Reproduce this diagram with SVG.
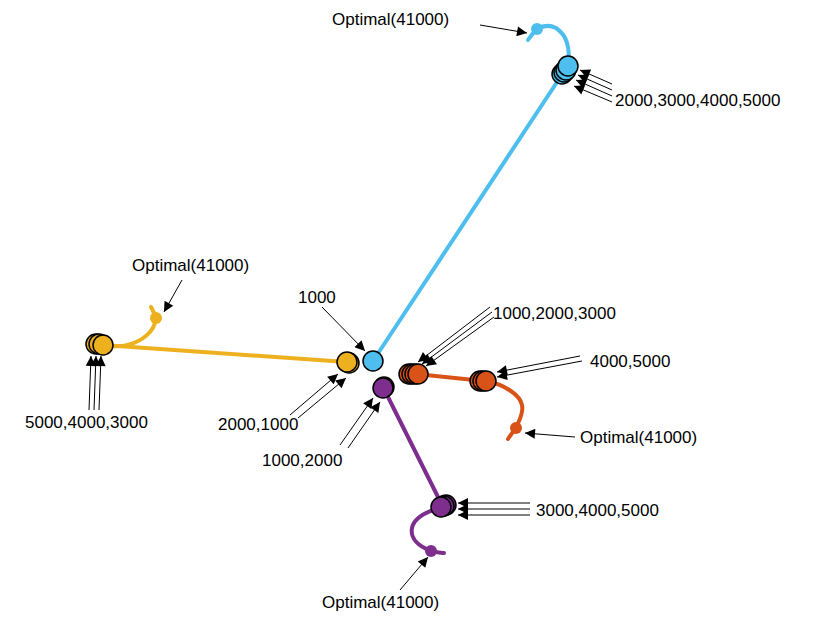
<svg xmlns="http://www.w3.org/2000/svg" width="830" height="643" viewBox="0 0 830 643">
<style>
text{font-family:"Liberation Sans",Arial,sans-serif;font-size:17px;fill:#000}
.ar{stroke:#000;stroke-width:1;fill:none;marker-end:url(#ah)}
.e{fill:none;stroke-width:4;stroke-linecap:round;stroke-linejoin:round}
.n{stroke:#000;stroke-width:1.5}
.b{fill:#4DBEEE}.o{fill:#D95319}.y{fill:#EDB120}.p{fill:#7E2F8E}
</style>
<defs><marker id="ah" viewBox="0 0 10 10" refX="10" refY="5" markerWidth="16" markerHeight="10" markerUnits="userSpaceOnUse" orient="auto"><path d="M0,0L10,5L0,10z" fill="#000"/></marker></defs>
<rect width="830" height="643" fill="#fff"/>
<g id="connectors">
<path class="e" stroke="#4DBEEE" d="M373,361L567,67"/>
<path class="e" stroke="#4DBEEE" d="M568,64C570,50 568,36 556,28C548,24 542,26 537,29C533,33 530,37 528,40"/>
<path class="e" stroke="#EDB120" d="M347,362L103,345"/>
<path class="e" stroke="#EDB120" d="M105,346C125,348 140,343 150,332C155,326 156,320 155,316C154,312 152,309 151,307"/>
<path class="e" stroke="#D95319" d="M416,374L484,381"/>
<path class="e" stroke="#D95319" d="M487,381C505,385 520,395 522,405C524,414 518,422 516,428C512,433 510,436 508,439"/>
<path class="e" stroke="#7E2F8E" d="M383,387L443,507"/>
<path class="e" stroke="#7E2F8E" d="M440,508C425,512 414,518 412,528C410,538 418,546 431,551C437,552 441,553 444,553"/>
<circle class="b" cx="537" cy="29" r="6"/><circle class="y" cx="156" cy="318" r="6"/>
<circle class="o" cx="516" cy="428" r="6"/><circle class="p" cx="431" cy="551" r="6"/>
<path class="ar" d="M480,25L527,33"/>
<path class="ar" d="M612,84L580,70"/><path class="ar" d="M612,90L578,75"/><path class="ar" d="M612,96L576,80"/><path class="ar" d="M612,102L574,86"/>
<path class="ar" d="M322,307L365,351"/>
<path class="ar" d="M290,415L338,374"/><path class="ar" d="M298,418L346,378"/>
<path class="ar" d="M340,445L373,398"/><path class="ar" d="M348,448L380,402"/>
<path class="ar" d="M490,307L418,362"/><path class="ar" d="M492,312L422,364"/><path class="ar" d="M494,317L426,366"/>
<path class="ar" d="M580,356L497,372"/><path class="ar" d="M582,361L497,377"/>
<path class="ar" d="M575,437L525,433"/>
<path class="ar" d="M530,503L458,503"/><path class="ar" d="M530,509L458,509"/><path class="ar" d="M530,515L458,515"/>
<path class="ar" d="M400,590L428,557"/>
<path class="ar" d="M182,280L164,312"/>
<path class="ar" d="M89,410L91,356"/><path class="ar" d="M94,410L96,356"/><path class="ar" d="M99,410L101,356"/>
</g>
<g id="blue-center"><circle class="n b" cx="373" cy="361" r="10"/></g>
<g id="blue-cluster"><circle class="n b" cx="562" cy="74" r="10"/><circle class="n b" cx="564" cy="72" r="10"/><circle class="n b" cx="566" cy="70" r="10"/><circle class="n b" cx="568" cy="66" r="10"/></g>
<g id="yellow-center"><circle class="n y" cx="349" cy="363" r="10"/><circle class="n y" cx="347" cy="362" r="10"/></g>
<g id="yellow-cluster"><circle class="n y" cx="96" cy="344" r="10"/><circle class="n y" cx="99" cy="344" r="10"/><circle class="n y" cx="103" cy="345" r="10"/></g>
<g id="orange-center"><circle class="n o" cx="409" cy="374" r="10"/><circle class="n o" cx="412" cy="374" r="10"/><circle class="n o" cx="415" cy="374" r="10"/><circle class="n o" cx="418" cy="374" r="10"/></g>
<g id="orange-cluster"><circle class="n o" cx="480" cy="381" r="10"/><circle class="n o" cx="483" cy="381" r="10"/><circle class="n o" cx="486" cy="381" r="10"/></g>
<g id="purple-center"><circle class="n p" cx="384" cy="387" r="10"/><circle class="n p" cx="383" cy="388" r="10"/></g>
<g id="purple-cluster"><circle class="n p" cx="446" cy="505" r="10"/><circle class="n p" cx="444" cy="506" r="10"/><circle class="n p" cx="441" cy="507" r="10"/></g>
<g id="labels">
<text x="332" y="25">Optimal(41000)</text>
<text x="615" y="106">2000,3000,4000,5000</text>
<text x="298" y="303">1000</text>
<text x="218" y="430">2000,1000</text>
<text x="262" y="466">1000,2000</text>
<text x="493" y="319">1000,2000,3000</text>
<text x="590" y="367">4000,5000</text>
<text x="580" y="443">Optimal(41000)</text>
<text x="536" y="516">3000,4000,5000</text>
<text x="322" y="608">Optimal(41000)</text>
<text x="132" y="271">Optimal(41000)</text>
<text x="25" y="428">5000,4000,3000</text>
</g>
</svg>
